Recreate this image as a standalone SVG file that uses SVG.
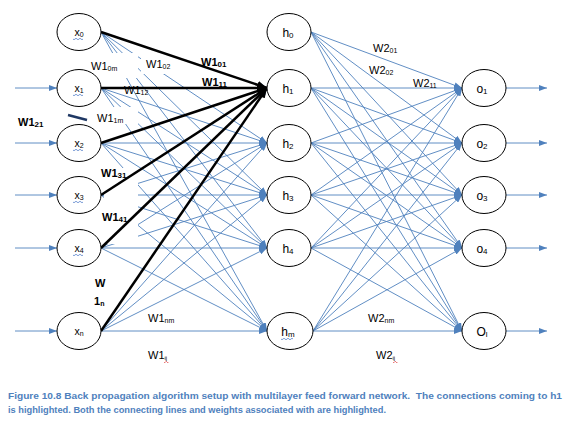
<svg xmlns="http://www.w3.org/2000/svg" width="570" height="427" viewBox="0 0 570 427">
<style>
.bg{fill:#ffffff}
.node{fill:#ffffff;stroke:#000000;stroke-width:1}
.e{stroke:#4f81bd;stroke-width:0.9;fill:none;marker-end:url(#ab)}
.k{stroke:#000000;stroke-width:2.5;fill:none;marker-end:url(#ak)}
.t{font-family:"Liberation Sans",Arial,sans-serif;font-size:11px;fill:#000000}
.tb{font-family:"Liberation Sans",Arial,sans-serif;font-size:11px;font-weight:bold;fill:#000000}
.nl{font-family:"Liberation Sans",Arial,sans-serif;font-size:12px;fill:#000000}
.xl{font-family:"Liberation Sans",Arial,sans-serif;font-size:10.5px;fill:#000000}
.cap{font-family:"Liberation Sans",Arial,sans-serif;font-size:9px;font-weight:bold;fill:#4f81bd;white-space:pre}
.sq{stroke:#4472c4;stroke-width:0.7;fill:none}
.sr{stroke:#e03030;stroke-width:0.7;fill:none}
.occ{fill:#ffffff;stroke:none}
</style>
<defs>
<marker id="ab" viewBox="0 0 8 6" refX="8" refY="3" markerWidth="8" markerHeight="6" markerUnits="userSpaceOnUse" orient="auto">
<path d="M0,0 L8,3 L0,6 z" fill="#4f81bd"/>
</marker>
<marker id="ak" viewBox="0 0 10 8" refX="10" refY="4" markerWidth="10" markerHeight="8" markerUnits="userSpaceOnUse" orient="auto">
<path d="M0,0 L10,4 L0,8 z" fill="#000000"/>
</marker>
</defs>
<rect class="bg" x="0" y="0" width="570" height="427"/>
<g id="connectors">
<line class="e" x1="15" y1="88" x2="57" y2="88"/>
<line class="e" x1="15" y1="143" x2="57" y2="143"/>
<line class="e" x1="15" y1="195" x2="57" y2="195"/>
<line class="e" x1="15" y1="248" x2="57" y2="248"/>
<line class="e" x1="15" y1="331" x2="57" y2="331"/>
<line class="e" x1="101" y1="32" x2="267" y2="88"/>
<line class="e" x1="101" y1="32" x2="267" y2="143"/>
<line class="e" x1="101" y1="32" x2="267" y2="195"/>
<line class="e" x1="101" y1="32" x2="267" y2="248"/>
<line class="e" x1="101" y1="32" x2="267" y2="331"/>
<line class="e" x1="101" y1="88" x2="267" y2="88"/>
<line class="e" x1="101" y1="88" x2="267" y2="143"/>
<line class="e" x1="101" y1="88" x2="267" y2="195"/>
<line class="e" x1="101" y1="88" x2="267" y2="248"/>
<line class="e" x1="101" y1="88" x2="267" y2="331"/>
<line class="e" x1="101" y1="143" x2="267" y2="88"/>
<line class="e" x1="101" y1="143" x2="267" y2="143"/>
<line class="e" x1="101" y1="143" x2="267" y2="195"/>
<line class="e" x1="101" y1="143" x2="267" y2="248"/>
<line class="e" x1="101" y1="143" x2="267" y2="331"/>
<line class="e" x1="101" y1="195" x2="267" y2="88"/>
<line class="e" x1="101" y1="195" x2="267" y2="143"/>
<line class="e" x1="101" y1="195" x2="267" y2="195"/>
<line class="e" x1="101" y1="195" x2="267" y2="248"/>
<line class="e" x1="101" y1="195" x2="267" y2="331"/>
<line class="e" x1="101" y1="248" x2="267" y2="88"/>
<line class="e" x1="101" y1="248" x2="267" y2="143"/>
<line class="e" x1="101" y1="248" x2="267" y2="195"/>
<line class="e" x1="101" y1="248" x2="267" y2="248"/>
<line class="e" x1="101" y1="248" x2="267" y2="331"/>
<line class="e" x1="101" y1="331" x2="267" y2="88"/>
<line class="e" x1="101" y1="331" x2="267" y2="143"/>
<line class="e" x1="101" y1="331" x2="267" y2="195"/>
<line class="e" x1="101" y1="331" x2="267" y2="248"/>
<line class="e" x1="101" y1="331" x2="267" y2="331"/>
<line class="e" x1="311" y1="32" x2="462" y2="88"/>
<line class="e" x1="311" y1="32" x2="462" y2="143"/>
<line class="e" x1="311" y1="32" x2="462" y2="195"/>
<line class="e" x1="311" y1="32" x2="462" y2="248"/>
<line class="e" x1="311" y1="32" x2="462" y2="331"/>
<line class="e" x1="311" y1="88" x2="462" y2="88"/>
<line class="e" x1="311" y1="88" x2="462" y2="143"/>
<line class="e" x1="311" y1="88" x2="462" y2="195"/>
<line class="e" x1="311" y1="88" x2="462" y2="248"/>
<line class="e" x1="311" y1="88" x2="462" y2="331"/>
<line class="e" x1="311" y1="143" x2="462" y2="88"/>
<line class="e" x1="311" y1="143" x2="462" y2="143"/>
<line class="e" x1="311" y1="143" x2="462" y2="195"/>
<line class="e" x1="311" y1="143" x2="462" y2="248"/>
<line class="e" x1="311" y1="143" x2="462" y2="331"/>
<line class="e" x1="311" y1="195" x2="462" y2="88"/>
<line class="e" x1="311" y1="195" x2="462" y2="143"/>
<line class="e" x1="311" y1="195" x2="462" y2="195"/>
<line class="e" x1="311" y1="195" x2="462" y2="248"/>
<line class="e" x1="311" y1="195" x2="462" y2="331"/>
<line class="e" x1="311" y1="248" x2="462" y2="88"/>
<line class="e" x1="311" y1="248" x2="462" y2="143"/>
<line class="e" x1="311" y1="248" x2="462" y2="195"/>
<line class="e" x1="311" y1="248" x2="462" y2="248"/>
<line class="e" x1="311" y1="248" x2="462" y2="331"/>
<line class="e" x1="313" y1="331" x2="462" y2="88"/>
<line class="e" x1="313" y1="331" x2="462" y2="143"/>
<line class="e" x1="313" y1="331" x2="462" y2="195"/>
<line class="e" x1="313" y1="331" x2="462" y2="248"/>
<line class="e" x1="313" y1="331" x2="462" y2="331"/>
<line class="e" x1="506" y1="88" x2="547" y2="88"/>
<line class="e" x1="506" y1="143" x2="547" y2="143"/>
<line class="e" x1="506" y1="195" x2="547" y2="195"/>
<line class="e" x1="506" y1="248" x2="547" y2="248"/>
<line class="e" x1="506" y1="331" x2="547" y2="331"/>
<rect class="occ" x="86" y="53" width="52" height="25"/>
<rect class="occ" x="141" y="56" width="48" height="18"/>
<rect class="occ" x="94" y="107" width="44" height="17"/>
<rect class="occ" x="104" y="168" width="34" height="76"/>
<line class="k" x1="101" y1="32" x2="267" y2="88"/>
<line class="k" x1="101" y1="88" x2="267" y2="88"/>
<line class="k" x1="101" y1="143" x2="267" y2="88"/>
<line class="k" x1="101" y1="195" x2="267" y2="88"/>
<line class="k" x1="101" y1="248" x2="267" y2="88"/>
<line class="k" x1="101" y1="331" x2="267" y2="88"/>
<line x1="68" y1="115" x2="87" y2="120" stroke="#1f3864" stroke-width="2.5"/>
</g>
<g id="x0"><ellipse class="node" cx="79" cy="32" rx="22" ry="18.5"/><text class="xl" x="79" y="36" text-anchor="middle">x<tspan font-size="7" dy="1">0</tspan></text><path class="sq" d="M73,39 q1,1.5 2,0 t2,0 t2,0 t2,0 t2,0"/></g>
<g id="x1"><ellipse class="node" cx="79" cy="88" rx="22" ry="18.5"/><text class="xl" x="79" y="92" text-anchor="middle">x<tspan font-size="7" dy="1">1</tspan></text><path class="sq" d="M73,95 q1,1.5 2,0 t2,0 t2,0 t2,0 t2,0"/></g>
<g id="x2"><ellipse class="node" cx="79" cy="143" rx="22" ry="18.5"/><text class="xl" x="79" y="147" text-anchor="middle">x<tspan font-size="7" dy="1">2</tspan></text><path class="sq" d="M73,150 q1,1.5 2,0 t2,0 t2,0 t2,0 t2,0"/></g>
<g id="x3"><ellipse class="node" cx="79" cy="195" rx="22" ry="18.5"/><text class="xl" x="79" y="199" text-anchor="middle">x<tspan font-size="7" dy="1">3</tspan></text><path class="sq" d="M73,202 q1,1.5 2,0 t2,0 t2,0 t2,0 t2,0"/></g>
<g id="x4"><ellipse class="node" cx="79" cy="248" rx="22" ry="18.5"/><text class="xl" x="79" y="252" text-anchor="middle">x<tspan font-size="7" dy="1">4</tspan></text><path class="sq" d="M73,255 q1,1.5 2,0 t2,0 t2,0 t2,0 t2,0"/></g>
<g id="xn"><ellipse class="node" cx="79" cy="331" rx="22" ry="18.5"/><text class="xl" x="79" y="335" text-anchor="middle">x<tspan font-size="7" dy="1">n</tspan></text></g>
<g id="h0"><ellipse class="node" cx="289" cy="32" rx="22" ry="18.5"/><text class="nl" x="288" y="37" text-anchor="middle">h<tspan font-size="8" dy="1">0</tspan></text></g>
<g id="h1"><ellipse class="node" cx="289" cy="88" rx="22" ry="18.5"/><text class="nl" x="288" y="93" text-anchor="middle">h<tspan font-size="8" dy="1">1</tspan></text></g>
<g id="h2"><ellipse class="node" cx="289" cy="143" rx="22" ry="18.5"/><text class="nl" x="288" y="148" text-anchor="middle">h<tspan font-size="8" dy="1">2</tspan></text></g>
<g id="h3"><ellipse class="node" cx="289" cy="195" rx="22" ry="18.5"/><text class="nl" x="288" y="200" text-anchor="middle">h<tspan font-size="8" dy="1">3</tspan></text></g>
<g id="h4"><ellipse class="node" cx="289" cy="248" rx="22" ry="18.5"/><text class="nl" x="288" y="253" text-anchor="middle">h<tspan font-size="8" dy="1">4</tspan></text></g>
<g id="hm"><ellipse class="node" cx="290" cy="331" rx="23" ry="18.5"/><text class="nl" x="288" y="336" text-anchor="middle">h<tspan font-size="8" dy="1">m</tspan></text><path class="sq" d="M281,339 q1,1.5 2,0 t2,0 t2,0 t2,0 t2,0 t2,0"/></g>
<g id="o1"><ellipse class="node" cx="484" cy="88" rx="22" ry="18.5"/><text class="nl" x="482" y="93" text-anchor="middle">o<tspan font-size="8" dy="1">1</tspan></text></g>
<g id="o2"><ellipse class="node" cx="484" cy="143" rx="22" ry="18.5"/><text class="nl" x="482" y="148" text-anchor="middle">o<tspan font-size="8" dy="1">2</tspan></text></g>
<g id="o3"><ellipse class="node" cx="484" cy="195" rx="22" ry="18.5"/><text class="nl" x="482" y="200" text-anchor="middle">o<tspan font-size="8" dy="1">3</tspan></text></g>
<g id="o4"><ellipse class="node" cx="484" cy="248" rx="22" ry="18.5"/><text class="nl" x="482" y="253" text-anchor="middle">o<tspan font-size="8" dy="1">4</tspan></text></g>
<g id="ol"><ellipse class="node" cx="484" cy="331" rx="22" ry="18.5"/><text class="nl" x="482" y="336" text-anchor="middle">O<tspan font-size="8" dy="1">l</tspan></text></g>
<g id="labels">
<text class="t" x="91" y="70">W1<tspan font-size="7" dy="1">0m</tspan></text>
<text class="t" x="146" y="68">W1<tspan font-size="7" dy="1">02</tspan></text>
<text class="tb" x="201" y="66">W1<tspan font-size="8" dy="1">01</tspan></text>
<text class="tb" x="202" y="86">W1<tspan font-size="8" dy="1">11</tspan></text>
<text class="t" x="124" y="94">W1<tspan font-size="7" dy="1">12</tspan></text>
<text class="tb" x="18" y="126">W1<tspan font-size="8" dy="1">21</tspan></text>
<text class="t" x="97" y="122">W1<tspan font-size="7" dy="1">1m</tspan></text>
<text class="tb" x="101" y="177">W1<tspan font-size="8" dy="1">31</tspan></text>
<text class="tb" x="102" y="221">W1<tspan font-size="8" dy="1">41</tspan></text>
<text class="tb" x="95" y="287">W</text>
<text class="tb" x="94" y="305">1<tspan font-size="7" dy="1">n</tspan></text>
<text class="t" x="148" y="322">W1<tspan font-size="7" dy="1">nm</tspan></text>
<text class="t" x="148" y="359">W1<tspan font-size="6" dy="1">ij</tspan></text>
<path class="sr" d="M164,362 q0.75,1.5 1.5,0 t1.5,0 t1.5,0"/>
<text class="t" x="373" y="52">W2<tspan font-size="7" dy="1">01</tspan></text>
<text class="t" x="369" y="74">W2<tspan font-size="7" dy="1">02</tspan></text>
<text class="t" x="413" y="87">W2<tspan font-size="7" dy="1">11</tspan></text>
<text class="t" x="368" y="322">W2<tspan font-size="7" dy="1">nm</tspan></text>
<text class="t" x="376" y="359">W2<tspan font-size="6" dy="1">ij</tspan></text>
<path class="sr" d="M393,362 q0.75,1.5 1.5,0 t1.5,0 t1.5,0"/>
</g>
<g id="caption">
<text class="cap" x="8" y="399" textLength="554" lengthAdjust="spacingAndGlyphs">Figure 10.8 Back propagation algorithm setup with multilayer feed forward network.  The connections coming to h1</text>
<text class="cap" x="8" y="413" textLength="378" lengthAdjust="spacingAndGlyphs">is highlighted. Both the connecting lines and weights associated with are highlighted.</text>
</g>
</svg>
